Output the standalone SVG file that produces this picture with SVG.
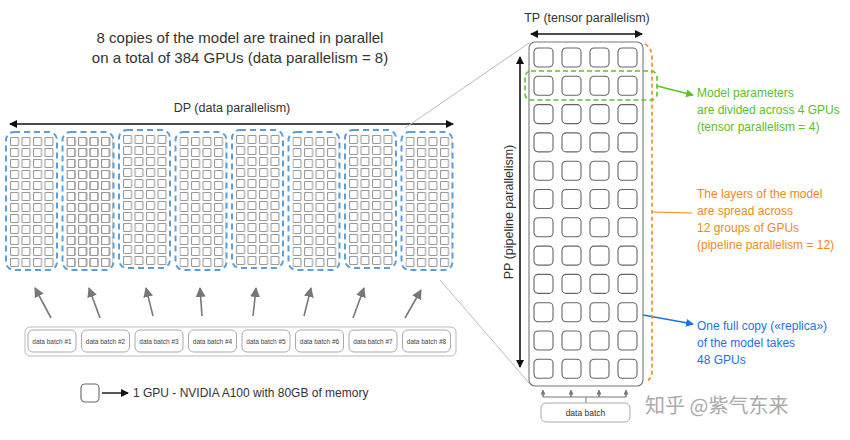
<svg xmlns="http://www.w3.org/2000/svg" width="850" height="440" viewBox="0 0 850 440">
<style>
text{font-family:"Liberation Sans",Arial,sans-serif;fill:#333}
.c{fill:none;stroke:#999;stroke-width:1.1}
.bc{fill:none;stroke:#666;stroke-width:1.1}
.rep{fill:none;stroke:#5a9fd8;stroke-width:2;stroke-dasharray:6,4}
.b{fill:#fff;stroke:#aaa;stroke-width:1}
.bt{font-size:6.5px;text-anchor:middle;fill:#444}
.ga{stroke:#777;stroke-width:1.6;marker-end:url(#ag)}
</style>
<defs>
<marker id="ak" markerWidth="8" markerHeight="8" refX="7" refY="4" orient="auto-start-reverse" markerUnits="userSpaceOnUse"><path d="M0,0L8,4L0,8z" fill="#111"/></marker>
<marker id="ag" markerWidth="10" markerHeight="10" refX="9" refY="5" orient="auto" markerUnits="userSpaceOnUse"><path d="M0,0L10,5L0,10z" fill="#777"/></marker>
<marker id="as" markerWidth="5" markerHeight="5" refX="4.5" refY="2.5" orient="auto" markerUnits="userSpaceOnUse"><path d="M0,0L5,2.5L0,5z" fill="#777"/></marker>
<marker id="agr" markerWidth="8" markerHeight="8" refX="7" refY="4" orient="auto" markerUnits="userSpaceOnUse"><path d="M0,0L8,4L0,8z" fill="#5ac12a"/></marker>
<marker id="abl" markerWidth="8" markerHeight="8" refX="7" refY="4" orient="auto" markerUnits="userSpaceOnUse"><path d="M0,0L8,4L0,8z" fill="#1a73e8"/></marker>
<pattern id="cells" x="10" y="137" width="11.5" height="11" patternUnits="userSpaceOnUse"><rect x="0.5" y="0.5" width="8" height="8" rx="1" class="c"/></pattern>
<g id="rcol"><rect x="0" y="0" width="19" height="19" rx="4" class="bc"/><rect x="28" y="0" width="19" height="19" rx="4" class="bc"/><rect x="56" y="0" width="19" height="19" rx="4" class="bc"/><rect x="84" y="0" width="19" height="19" rx="4" class="bc"/></g>
</defs>
<text x="240" y="43" font-size="15" text-anchor="middle">8 copies of the model are trained in parallel</text>
<text x="240" y="63" font-size="15" text-anchor="middle">on a total of 384 GPUs (data parallelism = 8)</text>
<g id="dp"><line x1="10" y1="124" x2="453" y2="124" stroke="#111" stroke-width="1.6" marker-start="url(#ak)" marker-end="url(#ak)"/><text x="232" y="112" font-size="12.5" text-anchor="middle">DP (data parallelism)</text></g>
<g id="replicas">
<rect x="6" y="132" width="51" height="138" rx="8" class="rep"/>
<rect x="10" y="137" width="46" height="132" fill="url(#cells)"/>
<g transform="translate(56.5,0)"><rect x="6" y="132" width="51" height="138" rx="8" class="rep"/><rect x="10" y="137" width="46" height="132" fill="url(#cells)" transform="translate(0,0)"/></g>
<g transform="translate(113,-2)"><rect x="6" y="132" width="51" height="138" rx="8" class="rep"/></g>
<g transform="translate(169.5,0)"><rect x="6" y="132" width="51" height="138" rx="8" class="rep"/></g>
<g transform="translate(226,-2)"><rect x="6" y="132" width="51" height="138" rx="8" class="rep"/></g>
<g transform="translate(282.5,0)"><rect x="6" y="132" width="51" height="138" rx="8" class="rep"/></g>
<g transform="translate(339,-2)"><rect x="6" y="132" width="51" height="138" rx="8" class="rep"/></g>
<g transform="translate(395.5,0)"><rect x="6" y="132" width="51" height="138" rx="8" class="rep"/></g>
<rect x="10" y="137" width="450" height="132" fill="none"/>
</g>
<g id="cellgrid">
<g transform="translate(56.5,0)"><rect x="10" y="137" width="46" height="132" fill="url(#cells)"/></g>
<g transform="translate(113,-2)"><rect x="10" y="137" width="46" height="132" fill="url(#cells)"/></g>
<g transform="translate(169.5,0)"><rect x="10" y="137" width="46" height="132" fill="url(#cells)"/></g>
<g transform="translate(226,-2)"><rect x="10" y="137" width="46" height="132" fill="url(#cells)"/></g>
<g transform="translate(282.5,0)"><rect x="10" y="137" width="46" height="132" fill="url(#cells)"/></g>
<g transform="translate(339,-2)"><rect x="10" y="137" width="46" height="132" fill="url(#cells)"/></g>
<g transform="translate(395.5,0)"><rect x="10" y="137" width="46" height="132" fill="url(#cells)"/></g>
</g>
<g id="batches">
<rect x="25" y="327" width="431" height="29" rx="5" fill="#fff" stroke="#bbb"/>
<rect x="28" y="330" width="48" height="22" rx="5" class="b"/><text x="52" y="344" class="bt">data batch #1</text>
<rect x="81.5" y="330" width="48" height="22" rx="5" class="b"/><text x="105.5" y="344" class="bt">data batch #2</text>
<rect x="135" y="330" width="48" height="22" rx="5" class="b"/><text x="159" y="344" class="bt">data batch #3</text>
<rect x="188.5" y="330" width="48" height="22" rx="5" class="b"/><text x="212.5" y="344" class="bt">data batch #4</text>
<rect x="242" y="330" width="48" height="22" rx="5" class="b"/><text x="266" y="344" class="bt">data batch #5</text>
<rect x="295.5" y="330" width="48" height="22" rx="5" class="b"/><text x="319.5" y="344" class="bt">data batch #6</text>
<rect x="349" y="330" width="48" height="22" rx="5" class="b"/><text x="373" y="344" class="bt">data batch #7</text>
<rect x="402.5" y="330" width="48" height="22" rx="5" class="b"/><text x="426.5" y="344" class="bt">data batch #8</text>
</g>
<g id="connectors">
<line x1="51" y1="318" x2="35" y2="288" class="ga"/>
<line x1="100" y1="318" x2="89" y2="288" class="ga"/>
<line x1="153" y1="316" x2="146" y2="288" class="ga"/>
<line x1="202" y1="316" x2="200" y2="288" class="ga"/>
<line x1="253" y1="316" x2="256" y2="288" class="ga"/>
<line x1="304" y1="316" x2="311" y2="288" class="ga"/>
<line x1="353" y1="318" x2="364" y2="288" class="ga"/>
<line x1="405" y1="318" x2="421" y2="290" class="ga"/>
<line x1="405" y1="128" x2="529" y2="43" stroke="#bbb" stroke-width="1"/>
<line x1="440" y1="280" x2="530" y2="384" stroke="#bbb" stroke-width="1"/>
<line x1="657" y1="86" x2="693" y2="95" stroke="#5ac12a" stroke-width="1.4" marker-end="url(#agr)"/>
<line x1="652" y1="212" x2="692" y2="213" stroke="#f08a1c" stroke-width="1.2"/>
<line x1="643" y1="315" x2="693" y2="324" stroke="#1a73e8" stroke-width="1.4" marker-end="url(#abl)"/>
<path d="M543,391V397H626V391M571,397V391M599,397V391M586,397V403" fill="none" stroke="#777" stroke-width="1"/>
<line x1="543" y1="397" x2="543" y2="390" stroke="#777" marker-end="url(#as)"/>
<line x1="571" y1="397" x2="571" y2="390" stroke="#777" marker-end="url(#as)"/>
<line x1="599" y1="397" x2="599" y2="390" stroke="#777" marker-end="url(#as)"/>
<line x1="626" y1="397" x2="626" y2="390" stroke="#777" marker-end="url(#as)"/>
</g>
<g id="replica">
<rect x="529" y="42" width="114" height="344" rx="6" fill="#fff" stroke="#777" stroke-width="1.1"/>
<use href="#rcol" x="534" y="48"/><use href="#rcol" x="534" y="76.3"/><use href="#rcol" x="534" y="104.6"/><use href="#rcol" x="534" y="132.9"/>
<use href="#rcol" x="534" y="161.2"/><use href="#rcol" x="534" y="189.5"/><use href="#rcol" x="534" y="217.8"/><use href="#rcol" x="534" y="246.1"/>
<use href="#rcol" x="534" y="274.4"/><use href="#rcol" x="534" y="302.7"/><use href="#rcol" x="534" y="331"/><use href="#rcol" x="534" y="359.3"/>
<rect x="525" y="71" width="132" height="29" rx="6" fill="none" stroke="#5ac12a" stroke-width="1.6" stroke-dasharray="5,3"/>
<path d="M645,44Q652,48 652,58V372Q652,378 647,381" fill="none" stroke="#f08a1c" stroke-width="1.6" stroke-dasharray="4,3"/>
<line x1="531" y1="34" x2="642" y2="34" stroke="#111" stroke-width="1.6" marker-start="url(#ak)" marker-end="url(#ak)"/>
<text x="587" y="22" font-size="12.5" text-anchor="middle">TP (tensor parallelism)</text>
<line x1="520" y1="57" x2="520" y2="367" stroke="#111" stroke-width="1.6" marker-start="url(#ak)" marker-end="url(#ak)"/>
<text transform="translate(513,212) rotate(-90)" font-size="12.5" text-anchor="middle">PP (pipeline parallelism)</text>
<rect x="541" y="403" width="89" height="19" rx="5" class="b"/>
<text x="585.5" y="416" font-size="8.5" text-anchor="middle">data batch</text>
</g>
<g id="labels" font-size="12">
<text x="697" y="97" style="fill:#5ac12a">Model parameters</text>
<text x="697" y="114" style="fill:#5ac12a">are divided across 4 GPUs</text>
<text x="697" y="131" style="fill:#5ac12a">(tensor parallelism = 4)</text>
<text x="697" y="198" style="fill:#f08a1c">The layers of the model</text>
<text x="697" y="215" style="fill:#f08a1c">are spread across</text>
<text x="697" y="232" style="fill:#f08a1c">12 groups of GPUs</text>
<text x="697" y="249" style="fill:#f08a1c">(pipeline parallelism = 12)</text>
<text x="697" y="330" style="fill:#1a73e8">One full copy («replica»)</text>
<text x="697" y="347" style="fill:#1a73e8">of the model takes</text>
<text x="697" y="364" style="fill:#1a73e8">48 GPUs</text>
</g>
<g id="legend">
<rect x="81" y="384" width="18" height="18" rx="4" fill="#fff" stroke="#666" stroke-width="1.1"/>
<line x1="102" y1="393" x2="128" y2="393" stroke="#111" stroke-width="1.4" marker-end="url(#ak)"/>
<text x="133" y="397" font-size="12">1 GPU - NVIDIA A100 with 80GB of memory</text>
</g>
<text x="645" y="413" font-size="20" style="fill:#aaa;font-family:'Noto Sans CJK SC',sans-serif">知乎 @紫气东来</text>
</svg>
